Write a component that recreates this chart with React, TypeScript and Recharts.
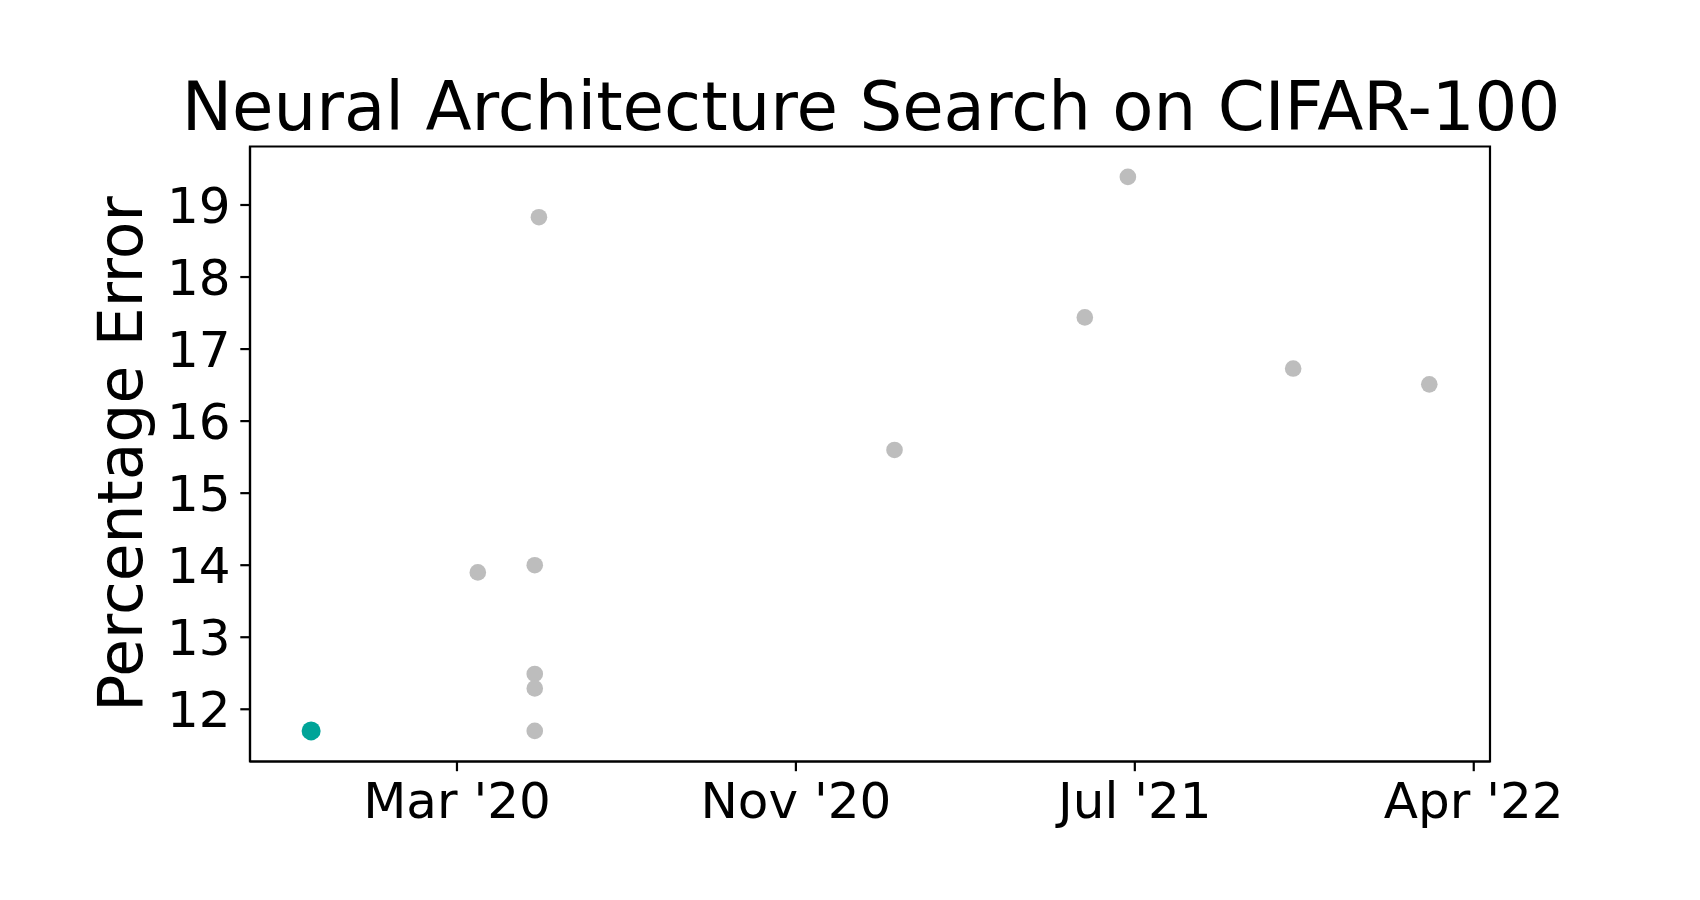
import React from 'react';
import { ScatterChart, Scatter, XAxis, YAxis, ReferenceArea } from 'recharts';

// publication dates and top-1 error (%)
const BEST_DATES = ['2019-11-17'];
const BEST_ERRORS = [11.7];

const OTHER_DATES = [
  '2020-03-16', '2020-04-26', '2020-04-26', '2020-04-26', '2020-04-26', '2020-04-29',
  '2021-01-10', '2021-05-27', '2021-06-27', '2021-10-24', '2022-01-30'
];
const OTHER_ERRORS = [13.9, 14.0, 12.49, 12.29, 11.7, 18.83, 15.6, 17.44, 19.39, 16.73, 16.51];

// tick positions in days since 1 Jan 2020
const X_TICKS = [60, 304, 548, 792];
const X_TICK_LABELS = ["Mar '20", "Nov '20", "Jul '21", "Apr '22"];
const Y_TICKS = [12, 13, 14, 15, 16, 17, 18, 19];

const X_DOMAIN: [number, number] = [-89, 803.7];
const Y_DOMAIN: [number, number] = [11.275, 19.812];

const FONT = '"DejaVu Sans", sans-serif';
const LINE = 2.2;

const toDays = (d: string) =>
  (Date.parse(d + 'T00:00:00Z') - Date.parse('2020-01-01T00:00:00Z')) / 86400000;

const best = BEST_DATES.map((d, i) => ({ x: toDays(d), y: BEST_ERRORS[i] }));
const others = OTHER_DATES.map((d, i) => ({ x: toDays(d), y: OTHER_ERRORS[i] }));

const dot = (r: number, fill: string) => (props: any) =>
  <circle cx={props.cx} cy={props.cy} r={r} fill={fill} />;

const XTick = ({ x, y, payload }: any) => {
  const i = X_TICKS.indexOf(payload.value);
  return (
    <text x={x} y={y + 37.4} textAnchor="middle" fontFamily={FONT} fontSize={50} fill="#000">
      {X_TICK_LABELS[i]}
    </text>
  );
};

const YTick = ({ x, y, payload }: any) => (
  <text x={x} y={y + 18} textAnchor="end" fontFamily={FONT} fontSize={50} fill="#000">
    {payload.value}
  </text>
);

export default function App() {
  return (
    <div style={{ position: 'absolute', left: 0, top: 0, width: 1700, height: 900, background: '#fff' }}>
      <ScatterChart
        width={1700}
        height={900}
        margin={{ top: 146.5, right: 210, bottom: 0, left: 0 }}
      >
        <XAxis
          type="number"
          dataKey="x"
          domain={X_DOMAIN}
          ticks={X_TICKS}
          allowDataOverflow
          height={138.5}
          tick={<XTick />}
          tickSize={9.7}
          tickMargin={9.7}
          axisLine={{ stroke: '#000', strokeWidth: LINE }}
          tickLine={{ stroke: '#000', strokeWidth: LINE }}
        />
        <YAxis
          type="number"
          dataKey="y"
          domain={Y_DOMAIN}
          ticks={Y_TICKS}
          allowDataOverflow
          width={250}
          tick={<YTick />}
          tickSize={9.7}
          tickMargin={9.7}
          axisLine={{ stroke: '#000', strokeWidth: LINE }}
          tickLine={{ stroke: '#000', strokeWidth: LINE }}
        />
        <ReferenceArea
          x1={X_DOMAIN[0]}
          x2={X_DOMAIN[1]}
          y1={Y_DOMAIN[0]}
          y2={Y_DOMAIN[1]}
          fill="none"
          stroke="#000"
          strokeWidth={LINE}
          fillOpacity={0}
        />
        <Scatter data={others} shape={dot(8.3, '#bdbdbd')} isAnimationActive={false} />
        <Scatter data={best} shape={dot(9.5, '#00a498')} isAnimationActive={false} />
      </ScatterChart>
      <svg
        width={1700}
        height={900}
        style={{ position: 'absolute', left: 0, top: 0, pointerEvents: 'none' }}
      >
        <text x={871} y={130} textAnchor="middle" fontFamily={FONT} fontSize={67.4} fill="#000">
          Neural Architecture Search on CIFAR-100
        </text>
        <text
          transform="translate(142,454) rotate(-90)"
          textAnchor="middle"
          fontFamily={FONT}
          fontSize={61.5}
          fill="#000"
        >
          Percentage Error
        </text>
      </svg>
    </div>
  );
}
